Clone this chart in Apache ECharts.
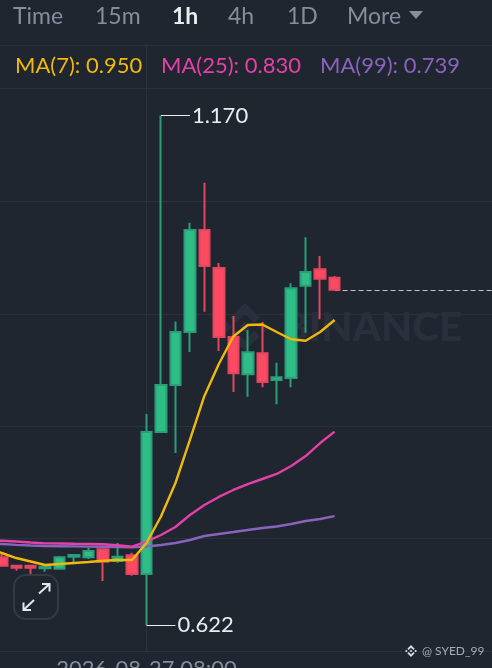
<!DOCTYPE html>
<html><head><meta charset="utf-8">
<style>html,body{margin:0;padding:0;background:#1f2630;overflow:hidden}#c{width:492px;height:668px}</style>
<script src="https://cdn.jsdelivr.net/npm/echarts@6/dist/echarts.min.js"></script></head>
<body><div id="c"></div>
<script>
const categories=['2026-08-26 20:00','2026-08-26 21:00','2026-08-26 22:00','2026-08-26 23:00','2026-08-27 00:00','2026-08-27 01:00','2026-08-27 02:00','2026-08-27 03:00','2026-08-27 04:00','2026-08-27 05:00','2026-08-27 06:00','2026-08-27 07:00','2026-08-27 08:00','2026-08-27 09:00','2026-08-27 10:00','2026-08-27 11:00','2026-08-27 12:00','2026-08-27 13:00','2026-08-27 14:00','2026-08-27 15:00','2026-08-27 16:00','2026-08-27 17:00','2026-08-27 18:00','2026-08-27 19:00','2026-08-27 20:00','2026-08-27 21:00','2026-08-27 22:00','2026-08-27 23:00','2026-08-28 00:00','2026-08-28 01:00','2026-08-28 02:00','2026-08-28 03:00','2026-08-28 04:00','2026-08-28 05:00','2026-08-28 06:00','2026-08-28 07:00'];
// open, close, low, high
const candles=['-',
[.6948,.6858,.6854,.6994],[.6858,.6836,.6804,.6865],[.6858,.6836,.6768,.6865],[.6830,.6847,.6793,.6854],
[.6825,.6948,.6823,.6962],[.6954,.6973,.6873,.6977],[.6948,.7016,.6930,.7051],[.7034,.6901,.6693,.7037],
[.6908,.6954,.6890,.7102],[.6970,.6768,.6750,.6997],[.6768,.8296,.622,.8489],[.8296,.8801,.8296,1.170],
[.8801,.9371,.8070,.9484],[.9371,1.0468,.9156,1.0547],[1.0468,1.0081,.9590,1.0977],[1.0060,.9318,.9167,1.0113],
[.9318,.8927,.8726,.9543],[.8916,.9153,.8675,.9393],[.9142,.8834,.8777,.9479],[.8855,.8884,.8594,.9041],
[.8877,.9841,.8777,.9895],[.9869,1.0017,.9364,1.0390],[1.0046,.9945,.9508,1.0189],[.9955,.9826,.9816,.9974]];
const ma7=[.7059,.6994,.6940,.6903,.6865,.6876,.6887,.6897,.6911,.6919,.6919,.7102,.7387,.7747,.8210,.8683,.9027,.9323,.9446,.9452,.9371,.9293,.9277,.9371,.950];
const ma25=[.7129,.7126,.7118,.7107,.7098,.7096,.7093,.7091,.7088,.7077,.7062,.7116,.7188,.7274,.7403,.7510,.7597,.7672,.7736,.7790,.7844,.7930,.8037,.8177,.830];
const ma99=[.7094,.7091,.7082,.7075,.7069,.7067,.7065,.7063,.7061,.7059,.7055,.7064,.7080,.7102,.7134,.7177,.7199,.7220,.7242,.7263,.7279,.7306,.7338,.7360,.739];
const gridValues=[.5940,.7156,.8360,.9565,1.0780,1.1996,1.2458];
const highValue=1.170, lowValue=.622, lastPrice=.9823;
const tabs=[['Time',13,'#848e9c',400],['15m',95,'#848e9c',400],['1h',172,'#eaecef',700],['4h',228,'#848e9c',400],['1D',287,'#848e9c',400],['More',347,'#848e9c',400]];
const maLabels=[['MA(7): 0.950',15,'#f0b90b'],['MA(25): 0.830',161,'#e440a8'],['MA(99): 0.739',320,'#8a63bd']];

const FONT='Lato, "Open Sans", sans-serif';
const LOGO='M16.624 13.9202l2.7175 2.7154-7.353 7.353-7.353-7.352 2.7175-2.7164 4.6355 4.6595 4.6356-4.6595zm4.6366-4.6366L24 12l-2.7154 2.7164L18.5682 12l2.6924-2.7164zm-9.272.001l2.7163 2.6914-2.7164 2.7174v-.001L9.2721 12l2.7164-2.7154zm-9.2722-.001L5.4088 12l-2.6914 2.6924L0 12l2.7164-2.7164zM11.9885.0115l7.353 7.329-2.7174 2.7154-4.6356-4.6356-4.6355 4.6595-2.7174-2.7154 7.353-7.353z';
echarts.graphic.registerShape('binanceLogo',echarts.graphic.extendPath(LOGO,{}));
const GRID='#2b313c';
const UP='#2ebd85', DOWN='#fb4a61';
const graphic=[];
tabs.forEach(t=>graphic.push({type:'text',z:10,style:{text:t[0],x:t[1],y:17,fill:t[2],font:`${t[3]} 23px ${FONT}`,textVerticalAlign:'middle'}}));
graphic.push({type:'polygon',z:10,shape:{points:[[409,11],[423,11],[416,19]]},style:{fill:'#848e9c'}});
maLabels.forEach(t=>graphic.push({type:'text',z:10,style:{text:t[0],x:t[1],y:66,fill:t[2],font:`400 22px ${FONT}`,textVerticalAlign:'middle'}}));
graphic.push({type:'text',z:1,style:{text:'BINANCE',x:282,y:328,fill:'#2a303b',font:`900 40.5px ${FONT}`,textVerticalAlign:'middle'}});
graphic.push({type:'binanceLogo',z:1,x:221,y:303,scaleX:2,scaleY:2,style:{fill:'#2a303b'}});
graphic.push({type:'rect',z:10,shape:{x:14,y:575,width:44,height:44,r:12},style:{fill:'rgba(31,38,48,0.6)',stroke:'#343a45',lineWidth:2}});
[[[39,593.5],[49.5,584]],[[42,584],[49.5,584],[49.5,591.5]],[[34,600],[23.5,610]],[[23.5,602.5],[23.5,610],[31,610]]].forEach(p=>
  graphic.push({type:'polyline',z:11,shape:{points:p},style:{fill:null,stroke:'#e6e8ea',lineWidth:2}}));
graphic.push({type:'binanceLogo',z:11,x:405,y:645,scaleX:0.5,scaleY:0.5,style:{fill:'#d8dadd'}});
graphic.push({type:'text',z:11,style:{text:'@ SYED_99',x:422,y:651,fill:'#a9adb4',font:`400 12px ${FONT}`,textVerticalAlign:'middle'}});

const chart=echarts.init(document.getElementById('c'),null,{renderer:'canvas'});
chart.setOption({
 animation:false,backgroundColor:'#1f2630',
 grid:{left:-19.9,right:-9,top:45,bottom:17,containLabel:false,outerBoundsMode:'none'},
 xAxis:{type:'category',data:categories,boundaryGap:true,
  axisLine:{show:false},axisTick:{show:false},splitLine:{show:false},
  axisLabel:{show:true,interval:(i)=>i===11,formatter:(v,i)=>i===11?categories[12]:'',color:'#848e9c',fontSize:22,fontFamily:FONT,margin:7,hideOverlap:false,showMinLabel:false,showMaxLabel:false}},
 yAxis:{type:'value',min:.5940,max:1.2458,scale:true,
  axisLine:{show:false},axisLabel:{show:false},
  axisTick:{show:false,customValues:gridValues},
  splitLine:{show:true,lineStyle:{color:GRID,width:1}}},
 graphic:graphic,
 series:[
  {type:'line',z:1,data:[],silent:true,markLine:{z:1,silent:true,symbol:'none',animation:false,label:{show:false},data:[
    {xAxis:11,lineStyle:{color:GRID,width:1,type:'solid'}},
    [{coord:[24,lastPrice],lineStyle:{color:'#c4c8ce',width:1.2,type:[5,3]}},{coord:[35,lastPrice]}]
  ]}},
  {type:'candlestick',z:3,barWidth:11,data:candles,
   itemStyle:{color:UP,color0:DOWN,borderColor:'#2a9e7b',borderColor0:'#e44660',borderWidth:2},
   markLine:{silent:true,symbol:'none',animation:false,z:6,
    lineStyle:{color:'#eaecef',width:1,type:'solid'},
    label:{show:true,position:'end',distance:2,color:'#eaecef',fontSize:22,fontFamily:FONT,formatter:p=>p.name},
    data:[
     [{name:'1.170',coord:[12,highValue]},{coord:[14,highValue]}],
     [{name:'0.622',coord:[11,lowValue]},{coord:[13,lowValue]}]
    ]}},
  {type:'line',z:4,data:ma99,symbol:'none',lineStyle:{color:'#8a63bd',width:2.4}},
  {type:'line',z:5,data:ma25,symbol:'none',lineStyle:{color:'#e440a8',width:2.4}},
  {type:'line',z:6,data:ma7,symbol:'none',lineStyle:{color:'#f0b90b',width:2.4}}
 ]
});
</script></body></html>
